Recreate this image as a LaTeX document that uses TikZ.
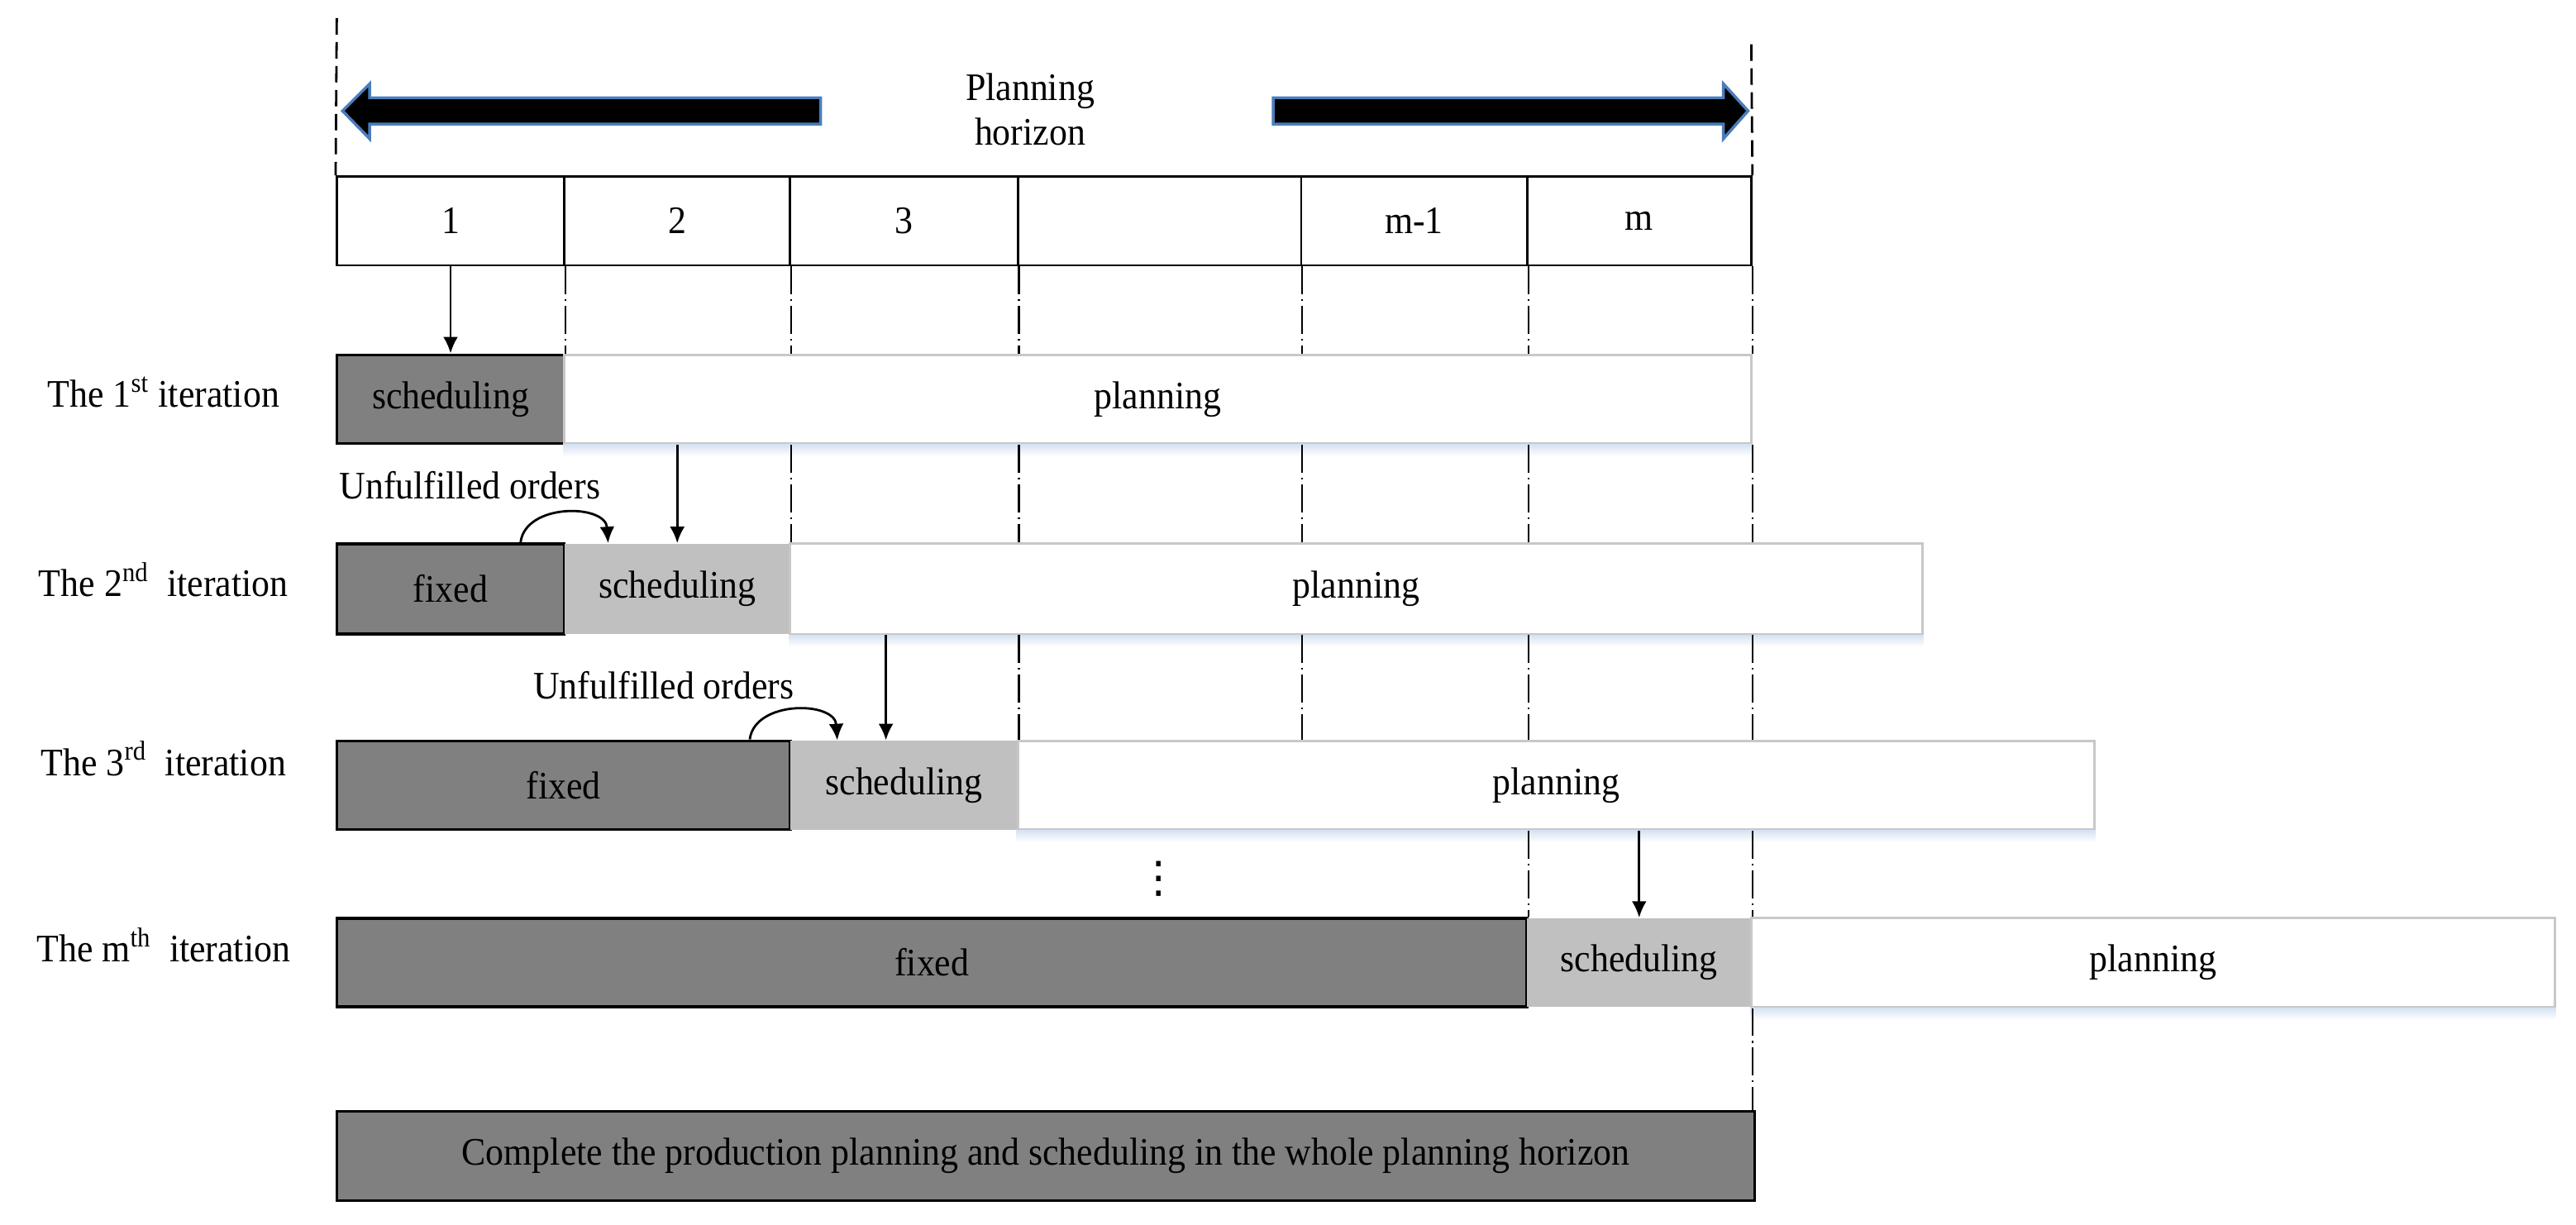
\documentclass[tikz,border=0pt]{standalone}
\usepackage{fontspec}
\setmainfont[FakeStretch=0.93]{Liberation Serif}
\newfontfamily\symfont{DejaVu Sans}
\usetikzlibrary{arrows.meta, calc, fit}
\definecolor{darkbox}{RGB}{128,128,128}
\definecolor{lightbox}{RGB}{192,192,192}
\definecolor{planline}{RGB}{200,200,200}
\definecolor{arrowrim}{RGB}{74,126,187}
\definecolor{shadowblue}{RGB}{214,227,243}

\begin{document}
\begin{tikzpicture}[x=0.2mm, y=-0.2mm, font=\fontsize{13.5}{15.4}\selectfont]
	\tikzstyle{cell} = [draw, line width=0.8pt, inner sep=0]
	\tikzstyle{fixedbox} = [draw=black, line width=1pt, fill=darkbox, inner sep=0]
	\tikzstyle{schedbox} = [fill=lightbox, inner sep=0]
	\tikzstyle{planbox} = [draw=planline, line width=0.8pt, fill=white, inner sep=0]
	\tikzstyle{guide} = [line width=0.6pt, dash pattern=on 9.7pt off 1.7pt on 0.6pt off 1.7pt]
	\tikzstyle{edgeline} = [line width=0.8pt, dash pattern=on 5.7pt off 2.6pt]
	\tikzstyle{flow} = [-{Latex[length=2mm, width=1.8mm]}, line width=0.8pt]
	\tikzstyle{bigarrow} = [fill=black, draw=arrowrim, line width=1pt]
	\tikzstyle{rowname} = [anchor=base, inner sep=0]
	\useasboundingbox (0,0) rectangle (1568,745.25);

	\foreach \l/\r/\t [count=\i] in {205/343.5/1, 343.5/481/2, 481/619.5/3, 619.5/792/{}, 792/929.5/m-1, 929.5/1066/m}
		\node [cell, fit={(\l,107.5) (\r,161.5)}, label=center:\t] (c\i) {};
	\coordinate (topl) at (205,11);
	\coordinate (topr) at (1066,27);
	\draw [edgeline] (topl) -- (c1.north west);
	\draw [edgeline] (topr) -- (c6.north east);
	\draw [bigarrow] (499.5,59.5) -- (225,59.5) -- (225,51) -- (208.5,67.5) -- (225,84.5) -- (225,75.5) -- (499.5,75.5) -- cycle;
	\draw [bigarrow] (775,59.5) -- (1049,59.5) -- (1049,51) -- (1064,67.5) -- (1049,84.5) -- (1049,75.5) -- (775,75.5) -- cycle;
	\node [align=center] (horizon) at (627,66.5) {Planning\\horizon};

	\node [fixedbox, fit={(205,216) (343.5,270)}, label=center:scheduling] (s1) {};
	\node [planbox, fit={(343.5,216) (1066,270)}, label=center:planning] (p1) {};
	\node [fixedbox, fit={(205,331) (343.5,386)}, label=center:fixed] (f2) {};
	\node [schedbox, fit={(343.5,331) (481,386)}, label=center:scheduling] (s2) {};
	\node [planbox, fit={(481,331) (1170,386)}, label=center:planning] (p2) {};
	\node [fixedbox, fit={(205,451) (481,505)}, label=center:fixed] (f3) {};
	\node [schedbox, fit={(481,451) (619.5,505)}, label=center:scheduling] (s3) {};
	\node [planbox, fit={(619.5,451) (1275,505)}, label=center:planning] (p3) {};
	\node [fixedbox, fit={(205,559) (929.5,613)}, label=center:fixed] (fm) {};
	\node [schedbox, fit={(929.5,559) (1066,613)}, label=center:scheduling] (sm) {};
	\node [planbox, fit={(1066,559) (1555,613)}, label=center:planning] (pm) {};
	\node [fixedbox, fit={(205,676.5) (1068,731)}, label={center:Complete the production planning and scheduling in the whole planning horizon}] (done) {};
	\foreach \p in {p1,p2,p3,pm}
		\shade [top color=shadowblue, bottom color=white] (\p.south west) rectangle ($(\p.south east)+(0,7)$);

	\node [rowname] (it1) at (99.5,248) {The 1\textsuperscript{st} iteration};
	\node [rowname] (it2) at (99.5,363) {The 2\textsuperscript{nd}\ \ iteration};
	\node [rowname] (it3) at (99.5,472) {The 3\textsuperscript{rd}\ \ iteration};
	\node [rowname] (itm) at (99.5,585.5) {The m\textsuperscript{th}\ \ iteration};
	\node [rowname] (left2) at (286,303.5) {Unfulfilled orders};
	\node [rowname] (left3) at (404,425.5) {Unfulfilled orders};
	\node [font=\symfont\fontsize{15}{15}\selectfont] (more) at (705.5,535) {⋮};

	\foreach \c in {1,...,6}
		\draw [guide] (c\c.south east) -- (c\c.south east |- s1.north);
	\foreach \c in {2,...,6}
		\draw [guide] (c\c.south east |- p1.south) -- (c\c.south east |- p2.north);
	\foreach \c in {3,...,6}
		\draw [guide] (c\c.south east |- p2.south) -- (c\c.south east |- p3.north);
	\foreach \c in {5,6}
		\draw [guide] (c\c.south east |- p3.south) -- (c\c.south east |- pm.north);
	\draw [guide] (c6.south east |- pm.south) -- (c6.south east |- done.north);

	\draw [flow] (c1) -- (s1);
	\draw [flow] (s2.north |- p1.south) -- (s2);
	\coordinate (drop3) at ($(s3.north)+(-11,0)$);
	\draw [flow] (drop3 |- p2.south) -- (drop3);
	\draw [flow] (sm.north |- p3.south) -- (sm);

	\coordinate (u2a) at ($(f2.north east)+(-27.5,0)$);
	\coordinate (u2b) at ($(s2.north west)+(27,0)$);
	\draw [flow] (u2a) .. controls ($(u2a)+(3,-24)$) and ($(u2b)+(-1.5,-24)$) .. (u2b);
	\coordinate (u3a) at ($(f3.north east)+(-25.5,0)$);
	\coordinate (u3b) at ($(s3.north west)+(29,0)$);
	\draw [flow] (u3a) .. controls ($(u3a)+(3,-24)$) and ($(u3b)+(-1.5,-24)$) .. (u3b);
\end{tikzpicture}
\end{document}
